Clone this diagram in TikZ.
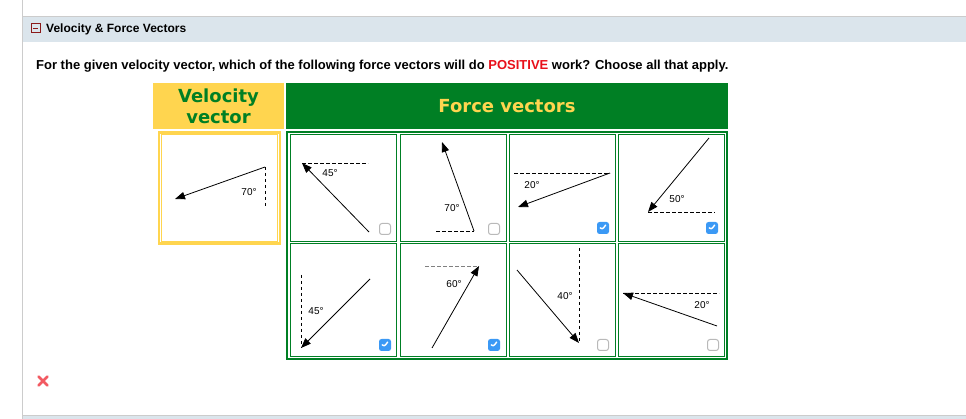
\documentclass[tikz,border=0pt]{standalone}
\usepackage{fontspec}
\setmainfont{Liberation Sans}
\newfontfamily\verdanafont{DejaVu Sans}
\usetikzlibrary{arrows.meta}
\definecolor{hdrblue}{HTML}{DBE5EC}
\definecolor{pageline}{HTML}{CCCCCC}
\definecolor{tblgreen}{HTML}{007F24}
\definecolor{tblyellow}{HTML}{FFD54F}
\definecolor{boxblue}{HTML}{3B99F5}
\definecolor{wrongred}{HTML}{F25A62}
\definecolor{iconred}{HTML}{8B1A1A}
\definecolor{posred}{HTML}{E8101A}

\begin{document}
\begin{tikzpicture}[x=1pt,y=-1pt,
    vec/.style={-{Triangle[length=10pt,width=7.5pt]},line width=0.8pt},
    guide/.style={dash pattern=on 3.5pt off 2.5pt,line width=0.8pt},
    cell/.style={draw=tblgreen,line width=1pt,minimum width=106pt,inner sep=0},
    ang/.style={font=\fontsize{10}{11}\selectfont,inner sep=0},
    chkoff/.style={draw=gray!55,rounded corners=2.5pt,line width=1pt,minimum size=11pt,inner sep=0},
    chkon/.style={fill=boxblue,rounded corners=2.5pt,minimum size=12pt,inner sep=0,
      path picture={\draw[white,line width=1.4pt] ([xshift=-3pt,yshift=0.5pt]path picture bounding box.center) -- ++(2.2,2.3) -- ++(3.6,-5);}},
    header/.style={minimum height=46pt,align=center,text=tblyellow,font=\verdanafont\bfseries\fontsize{18}{21}\selectfont}
  ]
    \useasboundingbox[fill=white] (0,0) rectangle (966,419);

    % Page frame and section band
    \fill[hdrblue] (23,17) rectangle (966,42);
    \draw[pageline,line width=1pt] (22.5,0) -- (22.5,419);
    \draw[pageline,line width=1pt] (23,16.5) -- (966,16.5);
    \fill[hdrblue] (23,416) rectangle (966,419);
    \draw[pageline,line width=1pt] (23,415.5) -- (966,415.5);
    \node[draw=iconred,line width=1pt,minimum size=9pt,inner sep=0,
      path picture={\draw[iconred,line width=1pt] ([xshift=-2.5pt]path picture bounding box.center) -- ++(5,0);}] (icon) at (35.5,28.5) {};
    \node[anchor=west,inner sep=0,font=\bfseries\fontsize{12}{14}\selectfont] (title) at (46,29.5) {Velocity \& Force Vectors};

    % Question
    \node[anchor=west,inner sep=0,font=\bfseries\fontsize{13}{15}\selectfont] (question) at (36,66)
      {For the given velocity vector, which of the following force vectors will do \textcolor{posred}{POSITIVE} work? Choose all that apply.};

    % Table headers
    \node[header,fill=tblyellow,text=tblgreen,minimum width=131pt] (vhead) at (218.5,106) {Velocity\\vector};
    \node[header,fill=tblgreen,minimum width=442pt] (fhead) at (507,106) {Force vectors};

    % Velocity cell
    \node[draw=tblyellow,line width=2.5pt,minimum width=121pt,minimum height=111pt] (vcell) at (219.5,188) {};
    \node[draw=tblyellow,line width=0.8pt,minimum width=116pt,minimum height=107pt] (vcellin) at (219.5,188) {};
    \coordinate (v0) at (265,167);
    \coordinate (v1) at (175,199);
    \coordinate (vd) at (265,206);
    \draw[guide] (v0) -- (vd);
    \draw[vec] (v0) -- (v1);
    \node[ang] (vang) at (249,192) {70°};

    % Force grid
    \node[draw=tblgreen,line width=2.5pt,minimum width=440pt,minimum height=227pt] (grid) at (507,245.5) {};
    \node[cell,minimum height=107pt] (c1) at (343.5,188) {};
    \node[cell,minimum height=107pt] (c2) at (453,188) {};
    \node[cell,minimum height=107pt] (c3) at (562,188) {};
    \node[cell,minimum height=107pt] (c4) at (671,188) {};
    \node[cell,minimum height=113pt] (c5) at (343.5,300) {};
    \node[cell,minimum height=113pt] (c6) at (453,300) {};
    \node[cell,minimum height=113pt] (c7) at (562,300) {};
    \node[cell,minimum height=113pt] (c8) at (671,300) {};

    % Row 1
    \coordinate (f1a) at (369,232); \coordinate (f1b) at (302,163); \coordinate (f1d) at (368,163);
    \draw[guide] (f1b) -- (f1d);
    \draw[vec] (f1a) -- (f1b);
    \node[ang] (ang1) at (330,173) {45°};
    \node[chkoff] (k1) at (385,229) {};

    \coordinate (f2a) at (474,231); \coordinate (f2b) at (442,142); \coordinate (f2d) at (436,231);
    \draw[guide] (f2d) -- (f2a);
    \draw[vec] (f2a) -- (f2b);
    \node[ang] (ang2) at (452,208) {70°};
    \node[chkoff] (k2) at (494,229) {};

    \coordinate (f3a) at (610,173); \coordinate (f3b) at (518,207); \coordinate (f3d) at (514,173);
    \draw[guide] (f3d) -- (f3a);
    \draw[vec] (f3a) -- (f3b);
    \node[ang] (ang3) at (532,185) {20°};
    \node[chkon] (k3) at (603,228) {};

    \coordinate (f4a) at (709,138); \coordinate (f4b) at (648,212); \coordinate (f4d) at (715,212);
    \draw[guide] (f4b) -- (f4d);
    \draw[vec] (f4a) -- (f4b);
    \node[ang] (ang4) at (677,199) {50°};
    \node[chkon] (k4) at (712,228) {};

    % Row 2
    \coordinate (f5a) at (370,279); \coordinate (f5b) at (301,348); \coordinate (f5d) at (301,275);
    \draw[guide] (f5d) -- (f5b);
    \draw[vec] (f5a) -- (f5b);
    \node[ang] (ang5) at (316,311) {45°};
    \node[chkon] (k5) at (385,345) {};

    \coordinate (f6a) at (432,348); \coordinate (f6b) at (479,266); \coordinate (f6d) at (425,266);
    \draw[guide,gray] (f6d) -- (f6b);
    \draw[vec] (f6a) -- (f6b);
    \node[ang] (ang6) at (454,284) {60°};
    \node[chkon] (k6) at (494,345) {};

    \coordinate (f7a) at (517,270); \coordinate (f7b) at (579,343); \coordinate (f7d) at (579,248);
    \draw[guide] (f7d) -- (f7b);
    \draw[vec] (f7a) -- (f7b);
    \node[ang] (ang7) at (565,296) {40°};
    \node[chkoff] (k7) at (603,345) {};

    \coordinate (f8a) at (717,326); \coordinate (f8b) at (623,293); \coordinate (f8d) at (719,293);
    \draw[guide] (f8b) -- (f8d);
    \draw[vec] (f8a) -- (f8b);
    \node[ang] (ang8) at (702,305) {20°};
    \node[chkoff] (k8) at (713,345) {};

    % Wrong-answer mark
    \coordinate (x0) at (43,381);
    \draw[wrongred,line width=2.8pt,line cap=round] ([shift={(-4.5,-4.5)}]x0) -- ([shift={(4.5,4.5)}]x0);
    \draw[wrongred,line width=2.8pt,line cap=round] ([shift={(-4.5,4.5)}]x0) -- ([shift={(4.5,-4.5)}]x0);
  \end{tikzpicture}
\end{document}
